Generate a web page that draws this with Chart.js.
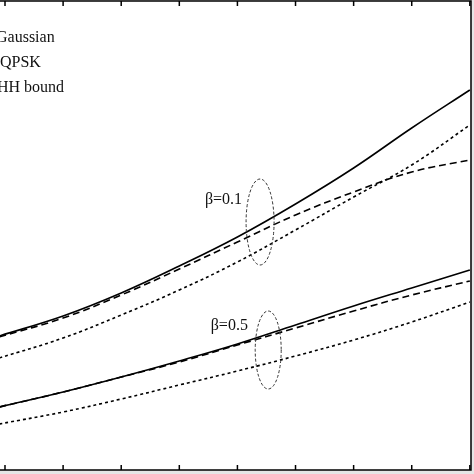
<!DOCTYPE html>
<html>
<head>
<script src="https://cdn.jsdelivr.net/npm/chart.js@4"></script>
<style>
  body { margin: 0; background: #e6e6e6; }
  #wrap { width: 474px; height: 474px; }
</style>
</head>
<body>
<div id="wrap"><canvas id="chart" width="474" height="474"></canvas></div>
<script>
const xs = [-0.1, 1, 2, 3, 4, 5, 6, 7, 8];
const gauss01 = [138, 158, 181, 208, 237, 270, 306, 346, 384];
const qpsk01  = [137, 156, 179, 205, 232, 259, 282, 302, 314];
const hh01    = [116, 136, 159, 184, 212, 244, 277, 309, 349];
const gauss05 = [67, 82, 97, 113, 130, 149, 168, 186, 204];
const qpsk05  = [67, 82, 97, 112, 129, 146, 163, 179, 193];
const hh05    = [50, 62, 75, 89, 103, 118, 134, 152, 172];
const legendLabels = ["Gaussian", "QPSK", "HH bound"];
const betaLabels = ["β=0.1", "β=0.5"];

function pts(ys) { return xs.map((x, i) => ({ x: x, y: ys[i] })); }
function line(label, ys, dash, w) {
  return { label: label, data: pts(ys), borderColor: "#000", borderWidth: w,
           borderDash: dash, pointRadius: 0, fill: false, tension: 0.4 };
}

const frame = {
  id: "frame",
  beforeDraw(chart) {
    const c = chart.ctx, a = chart.chartArea;
    c.save();
    c.fillStyle = "#fff";
    c.fillRect(0, a.top, a.right, a.bottom - a.top);
    c.restore();
  },
  afterDraw(chart) {
    const c = chart.ctx, a = chart.chartArea, sx = chart.scales.x, sy = chart.scales.y;
    c.save();
    c.strokeStyle = "#000";
    c.lineWidth = 1.5;
    c.beginPath();
    c.moveTo(0, a.top); c.lineTo(a.right, a.top); c.lineTo(a.right, a.bottom); c.lineTo(0, a.bottom);
    c.stroke();
    for (let i = 0; i <= 8; i++) {
      const px = sx.getPixelForValue(i);
      c.beginPath();
      c.moveTo(px, a.top); c.lineTo(px, a.top + 5);
      c.moveTo(px, a.bottom); c.lineTo(px, a.bottom - 5);
      c.stroke();
    }
    // ellipses
    c.lineWidth = 1;
    c.setLineDash([3, 2]);
    c.strokeStyle = "#333";
    [[4.39, 252, 14, 43], [4.53, 124, 13, 39]].forEach(e => {
      c.beginPath();
      c.ellipse(sx.getPixelForValue(e[0]), sy.getPixelForValue(e[1]), e[2], e[3], 0, 0, Math.PI * 2);
      c.stroke();
    });
    c.setLineDash([]);
    c.fillStyle = "#111";
    c.font = "16px 'Liberation Serif'";
    c.textBaseline = "middle";
    c.textAlign = "right";
    c.fillText(betaLabels[0], sx.getPixelForValue(4.08), sy.getPixelForValue(274));
    c.fillText(betaLabels[1], sx.getPixelForValue(4.18), sy.getPixelForValue(148));
    c.textAlign = "left";
    c.fillText(legendLabels[0], -4, 38);
    c.fillText(legendLabels[1], 0, 63);
    c.fillText(legendLabels[2], -3, 88);
    c.restore();
  }
};

new Chart(document.getElementById("chart"), {
  type: "line",
  data: {
    datasets: [
      line("Gaussian 0.1", gauss01, [], 1.6),
      line("QPSK 0.1", qpsk01, [7, 4], 1.6),
      line("HH 0.1", hh01, [3, 3], 1.6),
      line("Gaussian 0.5", gauss05, [], 1.6),
      line("QPSK 0.5", qpsk05, [7, 4], 1.6),
      line("HH 0.5", hh05, [3, 3], 1.6)
    ]
  },
  options: {
    responsive: false,
    animation: false,
    layout: { padding: { top: 1, right: 3, bottom: 4, left: 0 } },
    plugins: { legend: { display: false }, tooltip: { enabled: false } },
    scales: {
      x: { type: "linear", min: -0.086, max: 8.02, display: false },
      y: { type: "linear", min: 4, max: 473, display: false }
    }
  },
  plugins: [frame]
});
</script>
</body>
</html>
